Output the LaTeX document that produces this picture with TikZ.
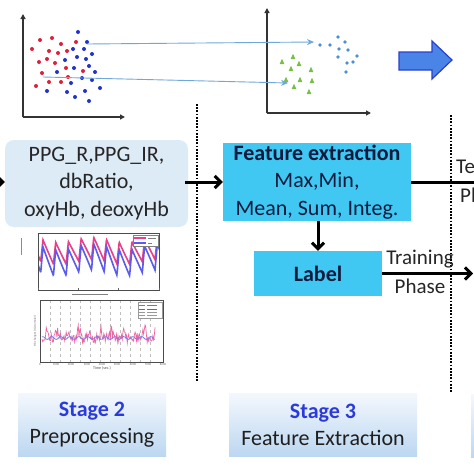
\documentclass[tikz,border=0pt]{standalone}
\usepackage{fontspec}
\setmainfont{Carlito}
\usetikzlibrary{arrows.meta}
\definecolor{boxlight}{HTML}{DDEBF7}
\definecolor{featcyan}{HTML}{40C8F2}
\definecolor{navy}{HTML}{0D1B3E}
\definecolor{stageblue}{HTML}{2B3BDB}
\definecolor{stagetop}{HTML}{F4F8FD}
\definecolor{stagebot}{HTML}{BCD7F1}
\definecolor{dotred}{HTML}{E0203A}
\definecolor{dotblue}{HTML}{2233CC}
\definecolor{dotlblue}{HTML}{4A90D9}
\definecolor{dotgreen}{HTML}{77C043}
\definecolor{thinarrow}{HTML}{6FA8DC}
\definecolor{bigfill}{HTML}{4A84E6}
\definecolor{bigdraw}{HTML}{2A3FD0}
\definecolor{sigpink}{HTML}{E8408A}
\definecolor{sigblue}{HTML}{5B5BEE}
\begin{document}
\begin{tikzpicture}[x=1pt,y=-1pt,
  txt/.style={font=\fontsize{22}{27.5}\selectfont, align=center, inner sep=0pt},
  bigarrow/.style={line width=3pt, -{Straight Barb[length=6pt,width=12pt,line width=3pt]}},
  thinarr/.style={thinarrow, line width=0.9pt, -{Stealth[length=7pt,width=6pt]}},
  dotline/.style={line width=2.2pt, dash pattern=on 1.8pt off 1.4pt},
  stagebox/.style={top color=stagetop, bottom color=stagebot, draw=none, minimum width=#1, minimum height=63pt, inner sep=0pt, align=center, font=\fontsize{22}{27}\selectfont},
  axis/.style={line width=1.4pt, draw=black!80, -{Triangle[length=5pt,width=5pt]}}
]
\useasboundingbox (0,0) rectangle (474,474);
\clip (0,0) rectangle (474,474);
\fill[white] (0,0) rectangle (474,474);

% ---------- scatter plot 1 ----------
\coordinate (o1) at (23,117);
\coordinate (y1) at (23,14);
\coordinate (x1) at (125,117);
\draw[axis] (o1) -- (y1);
\draw[axis] (o1) -- (x1);
\foreach \px/\py in {40/40,52/38,61/44,76/42,32/49,49/51,58/53,67/51,39/62,47/59,55/63,66/68,42/73,68/77,83/71,49/82,61/82,36/86}
  \fill[dotred] (\px,\py) circle (2pt);
\foreach \px/\py in {78/32,87/42,73/49,84/49,92/54,77/57,86/59,65/60,74/68,89/66,95/72,57/72,82/78,92/80,71/83,100/88,47/91,67/92,85/91,75/97,89/101}
  \fill[dotblue] (\px,\py) circle (2pt);

% ---------- scatter plot 2 ----------
\coordinate (o2) at (267,113);
\coordinate (y2) at (267,8);
\coordinate (x2) at (371,113);
\draw[axis] (o2) -- (y2);
\draw[axis] (o2) -- (x2);
\foreach \px/\py in {320/45,330/45,338/37,345/42,339/49,348/50,338/57,347/63,353/62,357/56,346/72}
  \fill[dotlblue] (\px,\py) circle (1.9pt);
\foreach \px/\py in {282/62,293/57,299/64,291/69,311/70,286/80,300/80,312/81,294/87,309/92}
  \fill[dotgreen] (\px,\py) ++(0,-3.2) -- ++(2.4,5.4) -- ++(-4.8,0) -- cycle;

\coordinate (a1s) at (87,44);
\coordinate (a1e) at (314,42);
\coordinate (a2s) at (43,77);
\coordinate (a2e) at (288,83);
\draw[thinarr] (a1s) -- (a1e);
\draw[thinarr] (a2s) -- (a2e);

% ---------- big arrow ----------
\filldraw[fill=bigfill, draw=bigdraw, line width=1.2pt, line join=miter]
  (399,52) -- (432,52) -- (432,41) -- (452,60) -- (432,79) -- (432,70) -- (399,70) -- cycle;

% ---------- dotted separators ----------
\coordinate (d1t) at (197,104);
\coordinate (d1b) at (197,382);
\coordinate (d2t) at (451,115);
\coordinate (d2b) at (451,392);
\draw[dotline] (d1t) -- (d1b);
\draw[dotline] (d2t) -- (d2b);

% ---------- stage 2 box ----------
\node[txt, fill=boxlight, rounded corners=9pt, minimum width=183pt, minimum height=87pt, text=black!85] (s2) at (96.5,183.5)
  {PPG\_R,PPG\_IR,\\dbRatio,\\oxyHb, deoxyHb};
\coordinate (lin) at (-12,182);
\draw[bigarrow] (lin) -- (s2.west|-lin);

% ---------- feature box ----------
\node[txt, fill=featcyan, minimum width=188pt, minimum height=78pt, text=navy] (feat) at (317,182)
  {\textbf{Feature extraction}\\Max,Min,\\Mean, Sum, Integ.};
\draw[bigarrow] (s2.east|-feat.west) ++(-3,0) -- (feat.west);

\node[txt, fill=featcyan, minimum width=128pt, minimum height=45pt, text=navy, font=\fontsize{22}{27}\selectfont\bfseries] (lab) at (318,273.5) {Label};
\draw[bigarrow] (feat.south-|lab.north) -- (lab.north);

\coordinate (trainend) at (473,273.5);
\draw[bigarrow] (lab.east) -- (trainend);
\node[txt, font=\fontsize{21}{25}\selectfont, text=black!85] (tr1) at (420,259) {Training};
\node[txt, font=\fontsize{21}{25}\selectfont, text=black!85] (tr2) at (420,286) {Phase};

\coordinate (testend) at (480,182);
\draw[line width=3pt] (feat.east) -- (testend);
\node[txt, anchor=west, font=\fontsize{21}{25}\selectfont, text=black!85] (te1) at (456,168) {Testing};
\node[txt, anchor=west, font=\fontsize{21}{25}\selectfont, text=black!85] (te2) at (460,195) {Phase};

% ---------- top chart ----------
\fill[white] (38,233) rectangle (159,290);
\begin{scope}
\clip (38,233) rectangle (159,290);
\draw[sigpink, line width=1.6pt] plot[domain=-0.4:9.6, samples=400]
  ({43+12.7*\x}, {240 + 2.5*sin(\x*70) + 22*( mod(\x+10,1)<0.82 ? mod(\x+10,1)/0.82 : (1-mod(\x+10,1))/0.18 )});
\draw[sigblue, line width=1.6pt] plot[domain=-0.4:9.6, samples=400]
  ({43+12.7*\x}, {247 + 3*sin(\x*70) + 26*( mod(\x+10,1)<0.82 ? mod(\x+10,1)/0.82 : (1-mod(\x+10,1))/0.18 )});
\end{scope}
\draw[black!70, line width=0.5pt] (38,233) rectangle (159,290);
\foreach \tx in {38,78,118,159} \draw[black!60, line width=0.3pt] (\tx,290) -- (\tx,288);
\fill[white] (133,235) rectangle (158,246);
\draw[black!50, line width=0.3pt] (133,235) rectangle (158,246);
\draw[sigpink, line width=1.6pt] (134,238) -- (146,238);
\draw[sigblue, line width=1.6pt] (134,243) -- (146,243);
\draw[black!50, line width=0.5pt] (148,238) -- (156,238) (148,243) -- (152,243);
\fill[black!45] (20.5,238) rectangle (22,255);
\draw[black!50, line width=0.6pt] (72,294) -- (108,294);

% ---------- bottom chart ----------
\fill[white] (40,300) rectangle (163,362);
\foreach \vx in {50,60,70,80,90,100,110,120,130,140,150}
  \draw[black!25, line width=0.4pt, dashed] (\vx,300) -- (\vx,362);
\begin{scope}
\clip (40,300) rectangle (163,362);
\pgfmathsetseed{7}
\draw[sigpink!80, line width=0.7pt] plot[domain=42:155, samples=160]
  (\x, {338 + 5*rand - 10*max(0,sin(\x*33))*rnd});
\draw[sigblue!80, line width=0.8pt] plot[domain=42:155, samples=80, smooth]
  (\x, {338 + 1.5*sin(\x*40)});
\end{scope}
\draw[black!70, line width=0.5pt] (40,300) rectangle (163,362);
\fill[white] (138,302) rectangle (162,318);
\draw[black!40, line width=0.3pt] (138,302) rectangle (162,318);
\foreach \ly/\lc in {305/sigpink,309/sigblue,312/black!40,315/black!40}
  \draw[\lc, line width=0.5pt] (139,\ly) -- (145,\ly) (147,\ly) -- (157,\ly);
\foreach \tx/\tl in {40/0,56/1000,71/2000,87/3000,102/4000,117/5000,133/6000,148/7000,163/8000}
  \node[inner sep=0pt, font=\fontsize{3}{3}\selectfont, text=black!60] (tk\tl) at (\tx,364.5) {\tl};
\node[inner sep=0pt, font=\fontsize{4}{4}\selectfont, text=black!70] (tlab) at (102,368) {Time (sec.)};
\node[inner sep=0pt, rotate=90, font=\fontsize{3}{3}\selectfont, text=black!60] (ylab) at (35,331) {Hb changes (micromolar)};

% ---------- stage labels ----------
\node[stagebox=148pt] (st2) at (92,424.5) {\textcolor{stageblue}{\bfseries Stage 2}\\\textcolor{black!88}{Preprocessing}};
\node[stagebox=188pt] (st3) at (323,424.5) {\textcolor{stageblue}{\bfseries Stage 3}\\\textcolor{black!88}{Feature Extraction}};
\node[stagebox=20pt, anchor=west] (st4) at (471,426) {};
\end{tikzpicture}
\end{document}
